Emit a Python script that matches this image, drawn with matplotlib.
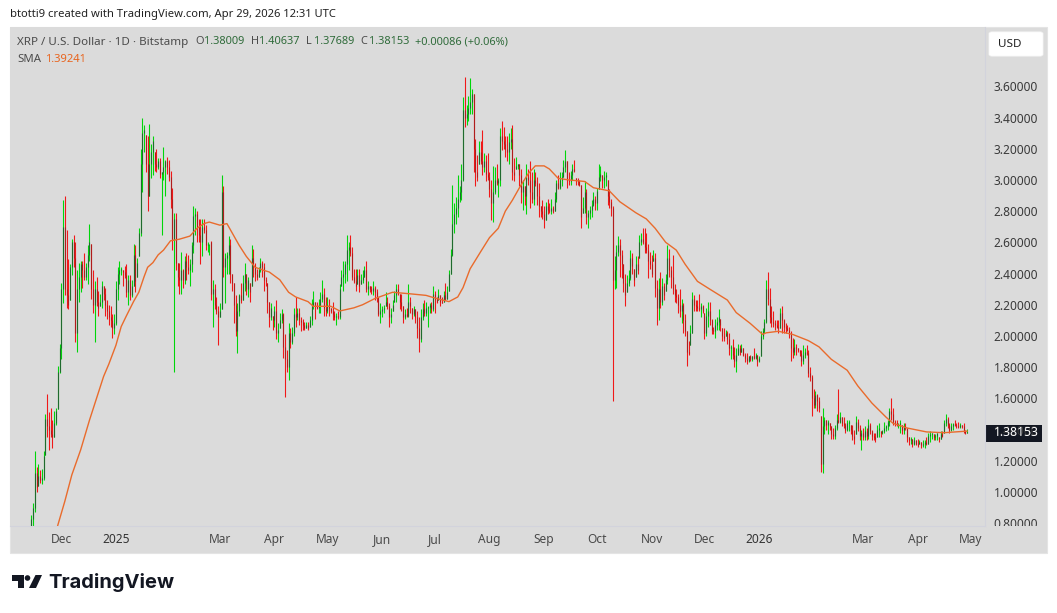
import numpy as np
import matplotlib
matplotlib.use("Agg")
import matplotlib.pyplot as plt
from matplotlib.patches import Rectangle, Polygon, FancyBboxPatch
from matplotlib.transforms import Bbox

W, H = 1057, 613
FONT = ["Noto Sans", "DejaVu Sans"]
plt.rcParams["font.family"] = FONT

highs = [
 .85,.93,1.26,1.16,1.18,1.14,1.15,1.26,1.50,1.63,
 1.51,1.54,1.46,1.52,1.54,1.81,1.95,2.34,2.87,2.90,
 2.68,2.49,2.46,2.62,2.65,2.60,2.42,2.47,2.48,2.48,
 2.53,2.47,2.58,2.72,2.59,2.42,2.35,2.38,2.29,2.27,
 2.35,2.32,2.31,2.23,2.20,2.19,2.14,2.14,2.35,2.44,
 2.48,2.44,2.42,2.45,2.46,2.39,2.39,2.36,2.59,2.58,
 2.50,2.69,3.20,3.40,3.35,3.29,3.28,3.36,3.23,3.28,
 3.18,3.20,3.14,3.14,3.05,3.21,3.13,3.15,3.13,3.06,
 2.95,2.79,2.79,2.47,2.47,2.54,2.43,2.51,2.53,2.52,
 2.49,2.60,2.83,2.82,2.80,2.75,2.75,2.75,2.75,2.71,
 2.60,2.59,2.61,2.36,2.33,2.25,2.19,2.21,3.03,2.96,
 2.53,2.54,2.64,2.62,2.40,2.34,2.26,2.21,2.27,2.34,
 2.39,2.47,2.40,2.38,2.34,2.58,2.56,2.47,2.43,2.44,
 2.50,2.48,2.47,2.38,2.34,2.22,2.21,2.13,2.19,2.23,
 2.08,2.15,2.17,2.15,2.01,1.91,2.08,2.05,2.06,2.18,
 2.25,2.18,2.18,2.12,2.11,2.09,2.09,2.09,2.13,2.24,
 2.29,2.22,2.22,2.24,2.28,2.36,2.31,2.25,2.25,2.24,
 2.18,2.22,2.16,2.15,2.16,2.33,2.42,2.48,2.48,2.65,
 2.60,2.65,2.57,2.43,2.43,2.43,2.43,2.40,2.42,2.45,
 2.48,2.35,2.32,2.32,2.35,2.32,2.30,2.25,2.21,2.19,
 2.20,2.28,2.25,2.21,2.18,2.23,2.29,2.33,2.33,2.27,
 2.27,2.19,2.17,2.18,2.33,2.25,2.18,2.19,2.17,2.16,
 2.12,2.17,2.21,2.23,2.22,2.19,2.21,2.22,2.32,2.29,
 2.25,2.30,2.26,2.25,2.29,2.34,2.32,2.42,2.56,2.97,
 2.85,2.89,3.03,2.96,3.10,3.53,3.66,3.48,3.54,3.65,
 3.58,3.55,3.26,3.16,3.25,3.25,3.32,3.17,3.16,3.17,
 3.05,3.00,3.09,3.08,3.10,3.01,3.33,3.38,3.34,3.28,
 3.28,3.30,3.33,3.35,3.14,3.15,3.10,3.10,3.07,3.00,
 2.96,3.10,3.07,3.12,3.05,3.07,3.05,3.02,2.98,2.83,
 2.87,2.83,2.86,2.88,2.85,2.88,2.83,2.92,3.00,3.03,
 3.05,3.05,3.13,3.19,3.12,3.05,3.06,3.10,3.13,3.01,
 3.01,3.00,2.97,2.89,2.99,2.94,2.81,2.83,2.87,2.92,
 2.90,2.95,3.10,3.09,3.03,3.06,3.05,3.00,2.94,2.88,
 2.83,2.51,2.58,2.64,2.62,2.55,2.46,2.40,2.39,2.42,
 2.55,2.53,2.43,2.51,2.51,2.65,2.66,2.69,2.69,2.66,
 2.59,2.54,2.52,2.55,2.53,2.36,2.37,2.41,2.37,2.34,
 2.40,2.58,2.56,2.45,2.52,2.33,2.30,2.27,2.30,2.24,
 2.21,2.14,2.03,1.97,2.07,2.28,2.26,2.23,2.23,2.27,
 2.21,2.20,2.15,2.18,2.22,2.22,2.11,2.06,2.11,2.12,
 2.17,2.11,2.05,2.05,2.04,2.03,2.02,1.94,1.98,1.93,
 1.92,1.95,1.94,1.95,1.92,1.89,1.89,1.87,1.88,1.87,
 1.92,1.89,1.88,1.87,2.03,2.05,2.11,2.36,2.41,2.31,
 2.19,2.16,2.10,2.10,2.10,2.18,2.19,2.11,2.08,2.07,
 2.06,2.03,1.99,1.98,1.95,1.92,1.91,1.91,1.94,1.92,
 1.94,1.91,1.80,1.75,1.66,1.65,1.63,1.61,1.49,1.54,
 1.48,1.46,1.46,1.44,1.42,1.41,1.43,1.50,1.66,1.51,
 1.48,1.48,1.44,1.46,1.46,1.43,1.43,1.40,1.49,1.47,
 1.43,1.40,1.41,1.42,1.41,1.47,1.44,1.40,1.38,1.38,
 1.43,1.44,1.39,1.40,1.45,1.43,1.46,1.54,1.60,1.54,
 1.46,1.46,1.44,1.46,1.43,1.44,1.44,1.41,1.35,1.35,
 1.34,1.35,1.33,1.34,1.33,1.32,1.33,1.33,1.35,1.38,1.39,
 1.38,1.37,1.37,1.38,1.35,1.39,1.39,1.46,1.50,1.48,
 1.44,1.44,1.44,1.46,1.44,1.45,1.44,1.43,1.44,1.40,1.40637]

lows = [
 .75,.78,.87,1.00,1.04,1.06,1.05,1.08,1.24,1.35,
 1.27,1.35,1.28,1.35,1.43,1.53,1.76,1.85,2.21,2.26,
 2.18,2.17,2.23,2.39,2.44,1.96,1.90,2.22,2.28,2.31,
 2.36,2.36,2.33,2.48,2.24,2.15,1.96,2.19,2.13,2.19,
 2.18,2.23,2.13,2.11,2.07,2.06,1.99,2.01,2.07,2.23,
 2.33,2.39,2.32,2.37,2.25,2.20,2.23,2.25,2.32,2.28,
 2.38,2.51,2.64,2.92,3.18,3.05,2.80,2.90,3.01,3.03,
 3.06,3.05,3.07,3.01,2.65,3.00,2.90,3.04,2.99,2.82,
 2.55,1.77,2.42,2.32,2.27,2.27,2.31,2.33,2.36,2.40,
 2.32,2.41,2.53,2.65,2.60,2.60,2.46,2.51,2.66,2.55,
 2.54,2.52,2.23,2.06,2.17,2.14,1.94,2.12,2.17,2.38,
 2.21,2.40,2.40,2.34,2.29,2.08,2.00,1.89,2.13,2.21,
 2.23,2.29,2.26,2.25,2.22,2.32,2.38,2.35,2.36,2.38,
 2.41,2.38,2.29,2.32,2.15,2.06,2.10,2.04,2.06,1.98,
 1.96,2.05,2.08,1.86,1.61,1.77,1.72,1.92,1.95,2.00,
 2.06,2.10,2.07,2.03,2.04,2.04,2.05,2.04,2.06,2.07,
 2.17,2.11,2.17,2.15,2.15,2.22,2.13,2.13,2.15,2.13,
 2.15,2.10,2.10,2.07,2.11,2.11,2.32,2.29,2.34,2.35,
 2.42,2.51,2.36,2.34,2.29,2.33,2.28,2.33,2.34,2.38,
 2.28,2.26,2.28,2.27,2.26,2.23,2.22,2.13,2.08,2.12,
 2.15,2.19,2.17,2.06,2.08,2.16,2.22,2.22,2.26,2.17,
 2.16,2.08,2.11,2.12,2.12,2.15,2.11,2.13,2.08,1.99,
 1.90,1.96,2.10,2.13,2.13,2.06,2.15,2.15,2.16,2.15,
 2.21,2.23,2.19,2.21,2.22,2.23,2.24,2.29,2.40,2.51,
 2.66,2.72,2.76,2.86,2.87,2.99,3.34,3.35,3.38,3.42,
 3.42,3.05,2.96,2.99,3.10,3.10,3.03,3.05,2.99,3.00,
 2.89,2.74,2.73,2.91,2.97,2.89,2.96,3.19,3.20,3.15,
 3.12,3.10,3.20,3.00,2.99,3.07,3.07,2.96,2.85,2.81,
 2.84,2.78,2.97,2.82,2.85,2.84,2.96,2.84,2.76,2.76,
 2.75,2.69,2.74,2.78,2.79,2.78,2.79,2.80,2.86,2.94,
 2.94,2.96,3.02,3.05,2.95,2.97,2.97,3.00,3.05,2.97,
 2.97,2.96,2.69,2.79,2.79,2.72,2.69,2.75,2.76,2.83,
 2.81,2.81,2.94,2.99,2.95,2.95,2.96,2.84,2.82,2.77,
 1.58,2.30,2.31,2.51,2.38,2.37,2.28,2.19,2.28,2.32,
 2.36,2.40,2.32,2.38,2.40,2.50,2.58,2.59,2.53,2.53,
 2.37,2.43,2.38,2.48,2.25,2.07,2.10,2.18,2.20,2.23,
 2.29,2.33,2.38,2.31,2.27,2.22,2.21,2.15,2.12,2.08,
 2.02,2.00,1.81,1.88,1.94,2.02,2.16,2.16,2.16,2.16,
 2.12,2.15,1.98,2.00,2.06,2.07,2.01,2.01,1.99,2.04,
 2.04,2.03,1.97,1.97,2.00,1.95,1.88,1.85,1.85,1.80,
 1.77,1.88,1.88,1.90,1.87,1.83,1.82,1.83,1.84,1.84,
 1.85,1.85,1.81,1.83,1.87,1.98,2.02,2.08,2.20,2.08,
 2.06,2.06,2.04,2.05,2.02,2.05,2.02,2.02,2.02,2.03,
 1.99,1.84,1.86,1.88,1.88,1.90,1.87,1.81,1.82,1.86,
 1.88,1.74,1.71,1.49,1.54,1.54,1.52,1.51,1.13,1.12,
 1.37,1.40,1.37,1.40,1.34,1.34,1.34,1.40,1.44,1.44,
 1.42,1.41,1.38,1.39,1.39,1.37,1.33,1.31,1.37,1.39,
 1.33,1.27,1.33,1.33,1.33,1.34,1.37,1.33,1.33,1.32,
 1.35,1.35,1.35,1.37,1.38,1.39,1.40,1.42,1.46,1.43,
 1.42,1.42,1.41,1.38,1.37,1.37,1.40,1.32,1.30,1.31,
 1.29,1.30,1.30,1.29,1.31,1.28,1.29,1.28,1.30,1.31,1.32,
 1.34,1.33,1.33,1.33,1.32,1.34,1.35,1.38,1.42,1.41,
 1.38,1.39,1.40,1.42,1.41,1.41,1.41,1.41,1.38,1.37,1.37689]

closes = [
 .83,.90,1.12,1.03,1.10,1.08,1.09,1.23,1.47,1.42,
 1.40,1.37,1.35,1.44,1.52,1.77,1.92,2.30,2.70,2.30,
 2.26,2.20,2.44,2.60,2.50,2.02,2.30,2.38,2.46,2.42,
 2.38,2.44,2.52,2.60,2.30,2.20,2.30,2.22,2.18,2.22,
 2.32,2.27,2.20,2.16,2.12,2.10,2.05,2.08,2.30,2.40,
 2.42,2.43,2.41,2.39,2.28,2.36,2.26,2.32,2.52,2.35,
 2.47,2.66,3.10,3.30,3.32,3.10,2.90,3.10,3.18,3.25,
 3.10,3.08,3.12,3.04,3.05,3.08,3.12,3.08,3.02,2.88,
 2.62,2.75,2.47,2.38,2.36,2.42,2.36,2.48,2.44,2.42,
 2.46,2.58,2.77,2.78,2.70,2.65,2.60,2.70,2.68,2.58,
 2.59,2.60,2.27,2.30,2.20,2.16,2.12,2.16,2.92,2.44,
 2.50,2.52,2.58,2.40,2.34,2.20,2.03,2.16,2.26,2.23,
 2.34,2.40,2.30,2.36,2.28,2.50,2.45,2.40,2.38,2.42,
 2.47,2.44,2.36,2.35,2.22,2.12,2.18,2.10,2.16,2.02,
 2.04,2.10,2.14,1.93,1.85,1.80,2.02,1.96,2.02,2.14,
 2.12,2.15,2.10,2.09,2.07,2.05,2.07,2.05,2.10,2.20,
 2.22,2.19,2.18,2.20,2.24,2.27,2.18,2.16,2.20,2.18,
 2.16,2.14,2.12,2.13,2.12,2.30,2.38,2.40,2.46,2.55,
 2.57,2.53,2.38,2.35,2.32,2.39,2.32,2.36,2.38,2.42,
 2.30,2.32,2.30,2.29,2.31,2.28,2.25,2.14,2.16,2.17,
 2.18,2.22,2.19,2.12,2.14,2.20,2.26,2.30,2.28,2.22,
 2.19,2.12,2.14,2.13,2.22,2.19,2.14,2.17,2.12,2.05,
 1.98,2.12,2.17,2.15,2.18,2.185,2.20,2.17,2.27,2.24,
 2.22,2.26,2.22,2.21,2.26,2.24,2.28,2.40,2.52,2.72,
 2.78,2.82,2.88,2.92,3.00,3.45,3.40,3.42,3.46,3.50,
 3.55,3.20,3.05,3.02,3.18,3.12,3.08,3.12,3.04,3.02,
 2.94,2.85,2.92,3.00,2.98,3.00,3.28,3.25,3.23,3.20,
 3.18,3.24,3.26,3.05,3.03,3.09,3.10,3.03,2.92,2.96,
 2.90,3.02,3.00,2.92,2.88,3.00,2.98,2.90,2.83,2.80,
 2.78,2.74,2.83,2.81,2.80,2.82,2.80,2.88,2.98,2.95,
 3.00,3.02,3.08,3.12,3.00,2.99,3.03,3.07,3.06,3.00,
 2.99,2.97,2.76,2.82,2.92,2.76,2.79,2.81,2.84,2.88,
 2.85,2.93,3.02,3.04,3.00,3.02,3.03,2.90,2.86,2.82,
 2.36,2.42,2.54,2.58,2.52,2.46,2.34,2.26,2.34,2.37,
 2.50,2.45,2.36,2.46,2.42,2.60,2.62,2.60,2.57,2.55,
 2.48,2.46,2.40,2.50,2.31,2.18,2.30,2.22,2.32,2.26,
 2.36,2.50,2.42,2.38,2.30,2.26,2.25,2.20,2.16,2.20,
 2.10,2.03,1.90,1.89,2.02,2.24,2.20,2.19,2.18,2.17,
 2.19,2.16,2.02,2.13,2.16,2.10,2.04,2.03,2.07,2.09,
 2.12,2.07,2.00,1.99,2.02,1.98,1.92,1.93,1.88,1.84,
 1.88,1.92,1.90,1.92,1.88,1.86,1.84,1.87,1.85,1.87,
 1.86,1.88,1.84,1.86,2.00,2.03,2.09,2.30,2.24,2.12,
 2.09,2.08,2.07,2.06,2.05,2.15,2.10,2.06,2.05,2.04,
 2.01,1.92,1.90,1.93,1.92,1.91,1.89,1.84,1.88,1.90,
 1.89,1.76,1.74,1.60,1.56,1.62,1.58,1.54,1.18,1.42,
 1.46,1.43,1.45,1.42,1.37,1.36,1.41,1.46,1.45,1.48,
 1.44,1.43,1.40,1.44,1.45,1.40,1.36,1.34,1.45,1.41,
 1.36,1.38,1.35,1.39,1.36,1.43,1.39,1.36,1.35,1.34,
 1.40,1.41,1.38,1.39,1.41,1.42,1.45,1.52,1.50,1.45,
 1.44,1.43,1.435,1.44,1.40,1.42,1.41,1.35,1.33,1.34,
 1.31,1.33,1.31,1.30,1.32,1.30,1.31,1.32,1.31,1.36,1.37,
 1.375,1.35,1.36,1.375,1.34,1.37,1.36,1.44,1.47,1.43,
 1.40,1.42,1.435,1.43,1.42,1.415,1.43,1.42,1.39,1.38009,1.38153]

first_open = 0.76

sma_days = [15,19,23,28,33,37,41,44,48,51,54,58,61,64,66,69,72,75,79,84,90,94,98,
 101,107,111,114,118,122,127,132,135,141,146,150,157,160,170,175,183,188,195,205,
 215,224,230,237,242,245,249,255,260,265,269,273,277,282,286,291,294,299,305,314,
 319,328,334,343,349,354,360,366,371,378,385,395,400,408,415,417,424,432,441,447,
 454,463,469,477,485,489,497,508,518,531]
sma_values = [.786,.94,1.11,1.27,1.46,1.60,1.74,1.82,1.94,2.06,2.13,2.22,2.28,2.38,2.44,2.47,2.52,2.55,2.61,2.62,2.64,2.69,2.72,
 2.73,2.71,2.72,2.66,2.58,2.51,2.44,2.42,2.41,2.36,2.28,2.25,2.22,2.19,2.19,2.16,2.18,2.20,2.24,2.28,
 2.27,2.26,2.24,2.22,2.25,2.31,2.43,2.54,2.63,2.69,2.80,2.87,2.95,3.04,3.09,3.09,3.07,3.01,3.00,2.99,
 2.95,2.93,2.86,2.79,2.75,2.69,2.60,2.55,2.46,2.35,2.30,2.23,2.15,2.08,2.01,2.02,2.03,2.01,1.97,1.93,
 1.85,1.78,1.68,1.57,1.48,1.44,1.41,1.385,1.38,1.39]

month_days = [17,48,107,138,168,199,229,260,291,321,352,382,413,472,503,533]
month_labels = ["Dec","2025","Mar","Apr","May","Jun","Jul","Aug","Sep","Oct","Nov","Dec","2026","Mar","Apr","May"]
price_ticks = [0.8,1.0,1.2,1.4,1.6,1.8,2.0,2.2,2.4,2.6,2.8,3.0,3.2,3.4,3.6]
last_price = 1.38153

PANEL = "#dbdbdb"
fig = plt.figure(figsize=(W/100, H/100), dpi=100, facecolor="white")

def fx(x): return x / W
def fy(y): return 1 - y / H

def ftext(x, y, s, **kw):
    kw.setdefault("va", "center"); kw.setdefault("ha", "left")
    return fig.text(fx(x), fy(y), s, **kw)

# chart panel
fig.add_artist(Rectangle((fx(10), fy(553)), fx(1037), 526/H, transform=fig.transFigure,
                         facecolor=PANEL, edgecolor="#e4e4e4", linewidth=0.8))

L, R, T, B = 10, 985, 27, 526
ax = fig.add_axes([fx(L), fy(B), (R-L)/W, (B-T)/H], facecolor=PANEL)
ax.set_xlim(-12.1, 541.2)
ax.set_ylim(0.782, 3.98)

hi = np.array(highs); lo = np.array(lows); cl = np.array(closes)
n = len(cl)
x = np.arange(n)
op = np.clip(np.r_[first_open, cl[:-1]], lo, hi)
cl2 = np.clip(cl, lo, hi)
up = cl2 >= op

GW, RW = "#00d60a", "#f01818"
GB, RB = "#1f6a2e", "#b01c1c"
lw = 0.78
ax.vlines(x[up], lo[up], hi[up], color=GW, lw=lw, zorder=2)
ax.vlines(x[~up], lo[~up], hi[~up], color=RW, lw=lw, zorder=2)
ax.vlines(x[up], op[up], cl2[up], color=GB, lw=lw, zorder=3)
ax.vlines(x[~up], cl2[~up], op[~up], color=RB, lw=lw, zorder=3)
ax.plot(sma_days, sma_values, color="#e96b2c", lw=1.0, zorder=4, solid_joinstyle="round")

for s in ("top", "left"):
    ax.spines[s].set_visible(False)
for s in ("right", "bottom"):
    ax.spines[s].set_color("#d2d3dc")
    ax.spines[s].set_linewidth(0.8)

ax.yaxis.tick_right()
ax.set_yticks(price_ticks)
ax.set_yticklabels([f"{p:.5f}" for p in price_ticks], fontsize=8.6, color="#3a3a3a")
ax.tick_params(axis="y", length=0, pad=6.2)
ax.set_xticks(month_days)
ax.set_xticklabels(month_labels, fontsize=8.6, color="#4a4a4a")
ax.tick_params(axis="x", length=0, pad=5)
for lab, txt in zip(ax.get_xticklabels(), month_labels):
    if txt.isdigit():
        lab.set_fontweight("bold")
        lab.set_color("#333333")
clip = Bbox.from_extents(R, H - B, 1047, H - T)
for lab in ax.get_yticklabels():
    lab.set_clip_box(clip)
    lab.set_clip_on(True)

# last price tag on the price axis
ax.annotate(f"{last_price:.5f}", xy=(1, last_price), xycoords=("axes fraction", "data"),
            xytext=(6.2, 0), textcoords="offset points", va="center", ha="left",
            fontsize=8.8, fontweight="medium", color="white", zorder=20, annotation_clip=False)
fig.add_artist(FancyBboxPatch((fx(986), fy(442)), 56/W, 17/H, transform=fig.transFigure,
                              boxstyle="square,pad=0", facecolor="#131722", edgecolor="none", zorder=10))
ax.set_zorder(11)

# USD button
fig.add_artist(FancyBboxPatch((fx(991), fy(55)), 50/W, 22/H, transform=fig.transFigure,
                              boxstyle="round,pad=0.002,rounding_size=0.003", facecolor="white",
                              edgecolor="#eeeeee", linewidth=0.5, zorder=12))
ftext(998, 44.5, "USD", fontsize=8.4, color="#222222", zorder=13)

# header texts
G = "#4c4c4c"; DG = "#2f6b3a"; OR = "#e8641e"
ftext(10, 15, "btotti9 created with TradingView.com, Apr 29, 2026 12:31 UTC", fontsize=8.08, color="#222222")
ftext(17, 42, "XRP / U.S. Dollar · 1D · Bitstamp", fontsize=8.36, color=G, zorder=13)
for xx, s, c in [(195, "O", G), (204, "1.38009", DG), (251, "H", G), (259, "1.40637", DG),
                 (306, "L", G), (314, "1.37689", DG), (360, "C", G), (369, "1.38153", DG),
                 (415, "+0.00086 (+0.06%)", DG)]:
    ftext(xx, 42, s, fontsize=7.9, color=c, zorder=13)
ftext(17, 59, "SMA", fontsize=8.2, color=G, zorder=13)
ftext(45, 59, "1.39241", fontsize=8.0, color=OR, zorder=13)

# TradingView logo
tf = fig.transFigure
K = "#131722"
def poly(pts):
    fig.add_artist(Polygon([(fx(a), fy(b)) for a, b in pts], closed=True, transform=tf, facecolor=K, edgecolor="none"))
poly([(12.3,575),(24.3,575),(24.3,588),(18.3,588),(18.3,581),(12.3,581)])
poly([(35.5,575),(42,575),(36,588),(29,588)])
fig.add_artist(Polygon([(fx(27.5+2.8*np.cos(t)), fy(578+2.8*np.sin(t))) for t in np.linspace(0,2*np.pi,40)],
                       closed=True, transform=tf, facecolor=K, edgecolor="none"))
ftext(48, 583, "TradingView", fontsize=14.5, fontweight="bold", color=K, family=["Inter", "DejaVu Sans"])

fig.savefig("out.png", dpi=100, facecolor="white")
print(n, len(hi), len(lo))
